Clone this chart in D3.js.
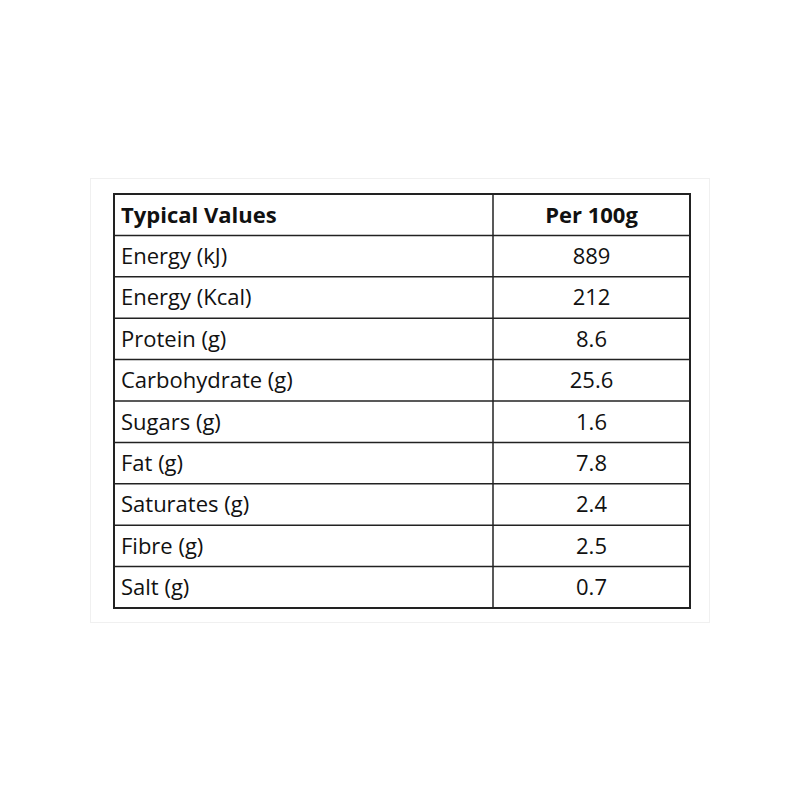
<!DOCTYPE html>
<html><head><meta charset="utf-8">
<script src="https://cdn.jsdelivr.net/npm/d3@7"></script>
<style>body{margin:0;background:#fff}</style>
</head><body>
<div id="vis"></div>
<script>
const headers = ["Typical Values", "Per 100g"];
const nutrients = ["Energy (kJ)", "Energy (Kcal)", "Protein (g)", "Carbohydrate (g)", "Sugars (g)", "Fat (g)", "Saturates (g)", "Fibre (g)", "Salt (g)"];
const values = ["889", "212", "8.6", "25.6", "1.6", "7.8", "2.4", "2.5", "0.7"];

const svg = d3.select("#vis").append("svg").attr("width", 800).attr("height", 800);

// faint card behind the table
svg.append("rect").attr("x", 90.5).attr("y", 178.5).attr("width", 619).attr("height", 444)
  .attr("fill", "#fff").attr("stroke", "#f0f0f0");

const tLeft = 114, tRight = 690, tTop = 194, tBottom = 608, tMid = 493;
const rows = [headers[0]].concat(nutrients);
const y = d3.scaleBand().domain(d3.range(rows.length)).range([tTop, tBottom]);

const g = svg.append("g");
g.append("rect").attr("x", tLeft).attr("y", tTop).attr("width", tRight - tLeft).attr("height", tBottom - tTop)
  .attr("fill", "none").attr("stroke", "#222").attr("stroke-width", 2);
g.append("line").attr("x1", tMid).attr("x2", tMid).attr("y1", tTop).attr("y2", tBottom)
  .attr("stroke", "#222").attr("stroke-width", 1.5);
g.selectAll(".hl").data(d3.range(1, rows.length)).enter().append("line")
  .attr("x1", tLeft).attr("x2", tRight).attr("y1", d => y(d)).attr("y2", d => y(d))
  .attr("stroke", "#222").attr("stroke-width", 1.5);

const font = "'Open Sans', sans-serif";
g.selectAll(".lab").data(rows).enter().append("text")
  .attr("x", tLeft + 7).attr("y", (d, i) => y(i) + y.bandwidth() / 2)
  .attr("dy", "0.36em").attr("font-family", font).attr("font-size", 22)
  .attr("font-weight", (d, i) => i === 0 ? 700 : 400).attr("fill", "#111")
  .text(d => d);
const vals = [headers[1]].concat(values);
g.selectAll(".val").data(vals).enter().append("text")
  .attr("x", (tMid + tRight) / 2).attr("y", (d, i) => y(i) + y.bandwidth() / 2)
  .attr("dy", "0.36em").attr("text-anchor", "middle").attr("font-family", font).attr("font-size", 22)
  .attr("font-weight", (d, i) => i === 0 ? 700 : 400).attr("fill", "#111")
  .text(d => d);
</script>
</body></html>
